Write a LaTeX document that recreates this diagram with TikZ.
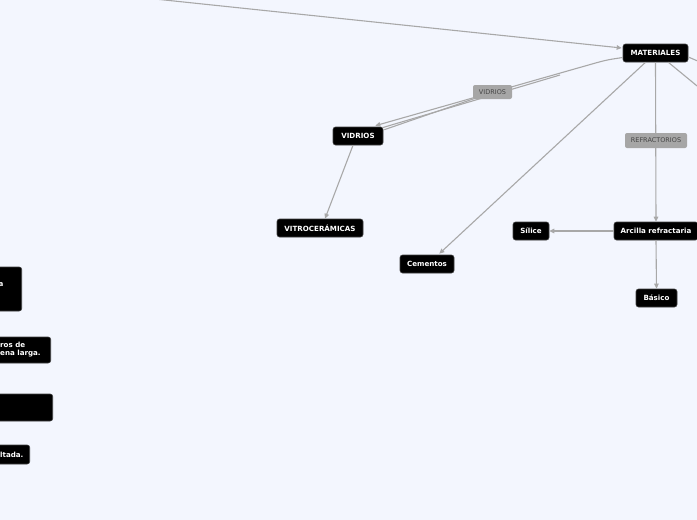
\documentclass[tikz,border=0pt]{standalone}
\usepackage{fontspec}
\setmainfont{DejaVu Sans}
\usetikzlibrary{arrows.meta,calc}
\definecolor{bgc}{HTML}{F3F6FE}
\definecolor{edgec}{HTML}{A8A8A8}
\definecolor{lblfill}{HTML}{A6A6A6}
\definecolor{lbltext}{HTML}{454545}
\tikzset{
  box/.style={fill=black, draw=black!75, line width=0.6pt, rounded corners=2.5pt, text=white,
    font=\bfseries\fontsize{7.1}{8.6}\selectfont, inner sep=0pt, minimum height=18pt},
  lbl/.style={fill=lblfill, rounded corners=2pt, text=lbltext,
    font=\fontsize{6.5}{8}\selectfont, inner sep=0pt, minimum height=14pt},
  frag/.style={text=white, font=\bfseries\fontsize{7.1}{8.6}\selectfont, inner sep=0pt, align=left},
  edge/.style={draw=edgec, line width=1.1pt},
  arr/.style={edge, -{Triangle[length=5pt,width=4.5pt]}}
}
\begin{document}
\begin{tikzpicture}[x=1pt,y=-1pt]
\fill[bgc] (0,0) rectangle (697,520);
\useasboundingbox (0,0) rectangle (697,520);
\clip (0,0) rectangle (697,520);

% nodes
\node[box, minimum width=65pt] (mat) at (655.5,53) {MATERIALES};
\node[box, minimum width=50pt] (vid) at (358,136) {VIDRIOS};
\node[box, minimum width=86pt] (vit) at (320,228) {VITROCERÁMICAS};
\node[box, minimum width=54pt] (cem) at (427,264) {Cementos};
\node[box, minimum width=36pt] (sil) at (531,231) {Sílice};
\node[box, minimum width=84pt] (arc) at (656,231) {Arcilla refractaria};
\node[box, minimum width=41pt] (bas) at (656.5,298) {Básico};

% partially visible nodes at the left edge
\node[box, minimum width=60pt, minimum height=44pt, anchor=east] (l1) at (22,289) {};
\node[box, minimum width=80pt, minimum height=26pt, anchor=east] (l2) at (51,350) {};
\node[box, minimum width=80pt, minimum height=27pt, anchor=east] (l3) at (53,407.5) {};
\node[box, minimum width=60pt, minimum height=19pt, anchor=east] (l4) at (30,454.5) {};
\node[frag, anchor=west] (f1) at (-1.5,285) {a};
\node[frag, anchor=west] (f2) at (0,349.5) {ros de\\ena larga.};
\node[frag, anchor=west] (f4) at (0,454.5) {ltada.};

% free ends
\coordinate (tl) at (155,-1);
\coordinate (r1) at (700,62);
\coordinate (r2) at (702,90);
\coordinate (b1) at (560,75);
\coordinate (c1) at (476,98);

% connectors
\draw[arr] (tl) -- ($(mat.west)+(-1,-5)$);
\draw[arr] ($(mat.west)+(0,4.5)$) .. controls (606,60) .. (585,66) -- ($(vid.north east)+(-8,-1)$);
\draw[edge] (b1) -- ($(vid.north east)+(-1,1)$);
\draw[edge] (c1) -- ($(vid.north east)+(1,3)$);
\draw[arr] ($(mat.south)+(-10,0)$) -- ($(cem.north east)+(-15,-1)$);
\draw[arr] (mat.south) -- (arc.north);
\draw[edge] ($(mat.east)+(0,4)$) -- (r1);
\draw[edge] ($(mat.south east)+(-20,0)$) -- (r2);
\draw[arr] ($(vid.south)+(-5,0)$) -- ($(vit.north)+(5,0)$);
\draw[arr] (arc.west) -- (sil.east);
\draw[arr] (arc.south) -- (bas.north);

% edge labels
\node[lbl, minimum width=39pt] (lv) at (492.5,92) {VIDRIOS};
\node[lbl, minimum width=62pt, minimum height=15pt] (lr) at (656,140.5) {REFRACTORIOS};
\end{tikzpicture}
\end{document}
